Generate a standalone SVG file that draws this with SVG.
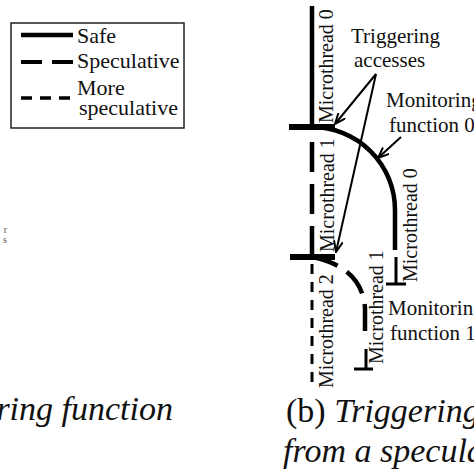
<svg xmlns="http://www.w3.org/2000/svg" width="474" height="474" viewBox="0 0 474 474">
<defs>
<style>
.t{font-family:'Liberation Serif',serif;fill:#111}
.lg{font-size:22px}
.lb{font-size:20px}
.an{font-size:21px}
.fr{font-size:10px;fill:#555}
.cap{font-size:34px;font-style:italic}
.ln{fill:none;stroke:#000;stroke-linecap:butt}
.safe{stroke-width:4.5}
.spec{stroke-width:4.5;stroke-dasharray:30 12}
.more{stroke-width:3;stroke-dasharray:10 8}
.bar{stroke-width:6}
.tick{stroke-width:3}
.arr{fill:none;stroke:#000;stroke-width:2;marker-end:url(#ah)}
</style>
<marker id="ah" viewBox="0 0 12 10" refX="11" refY="5" markerWidth="12" markerHeight="10" markerUnits="userSpaceOnUse" orient="auto">
<path d="M0,0.5 L11,5 L0,9.5" fill="none" stroke="#000" stroke-width="2"/>
</marker>
</defs>
<rect width="474" height="474" fill="#fff"/>

<g id="legend">
<rect x="11" y="23" width="173" height="105" fill="none" stroke="#222" stroke-width="1.5"/>
<line class="ln safe" x1="21" y1="35" x2="73" y2="35"/>
<text class="t lg" x="77" y="43">Safe</text>
<line class="ln" style="stroke-width:4;stroke-dasharray:21 10" x1="21" y1="62" x2="73" y2="62"/>
<text class="t lg" x="77" y="68">Speculative</text>
<line class="ln" style="stroke-width:3.5;stroke-dasharray:11 8" x1="21" y1="98" x2="73" y2="98"/>
<text class="t lg" x="77" y="95">More</text>
<text class="t lg" x="79" y="115">speculative</text>
</g>

<g id="fragments">
<text class="t fr" x="7" y="233" text-anchor="end">r</text>
<text class="t fr" x="7" y="243" text-anchor="end">s</text>
</g>

<g id="microthread0">
<line class="ln safe" x1="312" y1="6" x2="312" y2="127"/>
<text class="t lb" transform="translate(333,123) rotate(-90)">Microthread 0</text>
</g>
<g id="spawn1">
<line class="ln bar" x1="289" y1="127" x2="335" y2="127"/>
</g>
<g id="microthread1">
<line class="ln spec" x1="312" y1="142" x2="312" y2="256"/>
<text class="t lb" transform="translate(334,252) rotate(-90)">Microthread 1</text>
</g>
<g id="spawn2">
<line class="ln bar" x1="290" y1="257" x2="335" y2="257"/>
</g>
<g id="microthread2">
<line class="ln more" x1="312" y1="264" x2="312" y2="390"/>
<text class="t lb" transform="translate(333,388) rotate(-90)">Microthread 2</text>
</g>
<g id="monitoring0">
<path class="ln safe" d="M312,127 A83,83 0 0 1 395,210 L395,250"/>
<path class="ln tick" d="M396,257 L396,284 M386,284 L406,284"/>
<text class="t lb" transform="translate(417,282) rotate(-90)">Microthread 0</text>
<text class="t an" x="386" y="107">Monitoring</text>
<text class="t an" x="389" y="132">function 0</text>
</g>
<g id="monitoring1">
<path class="ln" style="stroke-width:4.5;stroke-dasharray:27 11" d="M312,257 Q362,267 365,308 L365,340"/>
<path class="ln tick" d="M366,349 L366,369 M354,369 L373,369"/>
<text class="t lb" transform="translate(383,364) rotate(-90)">Microthread 1</text>
<text class="t an" x="388" y="315">Monitoring</text>
<text class="t an" x="390" y="340">function 1</text>
</g>
<g id="triggering">
<text class="t an" x="351" y="43">Triggering</text>
<text class="t an" x="354" y="67">accesses</text>
</g>

<g id="connectors">
<line class="arr" x1="376" y1="74" x2="335" y2="124"/>
<line class="arr" x1="376" y1="74" x2="336" y2="252"/>
<line class="arr" x1="401" y1="137" x2="378" y2="158"/>
</g>

<g id="captions">
<text class="t cap" x="173" y="420" text-anchor="end">ring function</text>
<text class="t cap" x="286" y="422"><tspan font-style="normal">(b) </tspan>Triggering</text>
<text class="t cap" x="283" y="462">from a speculative</text>
</g>
</svg>
